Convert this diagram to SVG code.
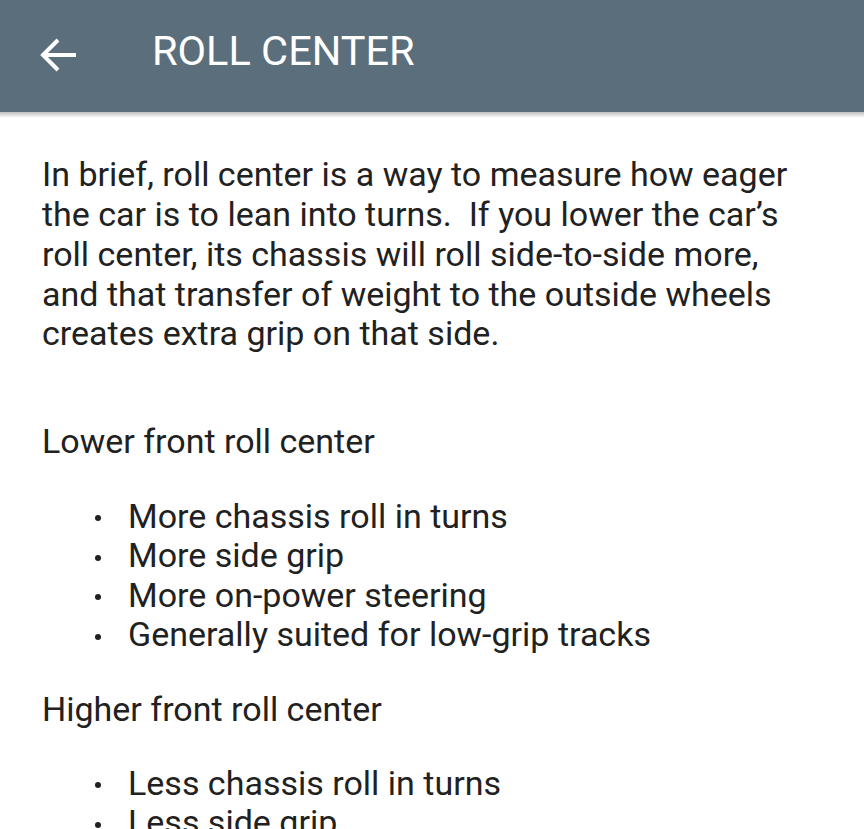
<svg xmlns="http://www.w3.org/2000/svg" width="864" height="829" viewBox="0 0 864 829">
<defs>
<linearGradient id="sh" x1="0" y1="0" x2="0" y2="1"><stop offset="0" stop-color="#000" stop-opacity="0.25"/><stop offset="1" stop-color="#000" stop-opacity="0"/></linearGradient>
</defs>
<style>
.t{font-family:Roboto,"Liberation Sans",sans-serif;font-size:34px;fill:#212121;white-space:pre}
.b{font-family:Roboto,"Liberation Sans",sans-serif;font-size:34px;fill:#212121}
</style>
<rect width="864" height="829" fill="#ffffff"/>
<g id="header">
<rect width="864" height="112" fill="#5b6e7b"/>
<rect y="112" width="864" height="6" fill="url(#sh)"/>
<path d="M76 55H44M58 40L43 55L58 70" stroke="#fff" stroke-width="4" fill="none"/>
<text x="152" y="65" font-family="Roboto,'Liberation Sans',sans-serif" font-size="41.5" fill="#ffffff">ROLL CENTER</text>
</g>
<g id="body">
<text class="t" x="42" y="186">In brief, roll center is a way to measure how eager</text>
<text class="t" x="42" y="226" xml:space="preserve">the car is to lean into turns.  If you lower the car’s</text>
<text class="t" x="42" y="266">roll center, its chassis will roll side-to-side more,</text>
<text class="t" x="42" y="306">and that transfer of weight to the outside wheels</text>
<text class="t" x="42" y="345">creates extra grip on that side.</text>
<text class="t" x="42" y="453">Lower front roll center</text>
<circle cx="98" cy="518" r="3" fill="#212121"/><text class="b" x="128" y="528">More chassis roll in turns</text>
<circle cx="98" cy="558" r="3" fill="#212121"/><text class="b" x="128" y="567">More side grip</text>
<circle cx="98" cy="597" r="3" fill="#212121"/><text class="b" x="128" y="607">More on-power steering</text>
<circle cx="98" cy="637" r="3" fill="#212121"/><text class="b" x="128" y="646">Generally suited for low-grip tracks</text>
<text class="t" x="42" y="721">Higher front roll center</text>
<circle cx="98" cy="785" r="3" fill="#212121"/><text class="b" x="128" y="795">Less chassis roll in turns</text>
<circle cx="98" cy="825" r="3" fill="#212121"/><text class="b" x="128" y="834">Less side grip</text>
</g>
</svg>
